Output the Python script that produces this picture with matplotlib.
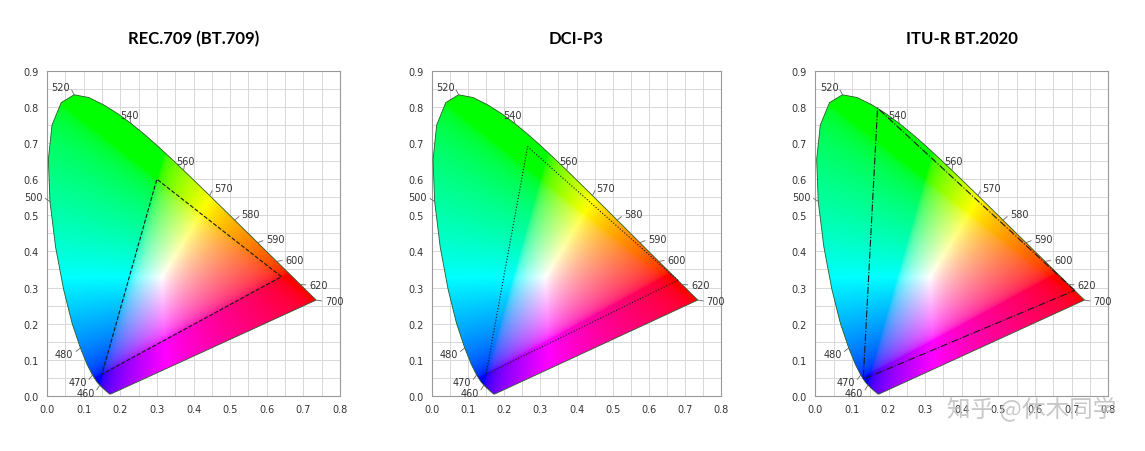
import numpy as np
import matplotlib
matplotlib.use('Agg')
import matplotlib.pyplot as plt
from matplotlib.patches import Polygon

# CIE 1931 spectral locus (x, y)
wl = [380, 400, 420, 430, 440, 450, 455, 460, 465, 470, 475, 480, 485, 490, 495,
      500, 505, 510, 515, 520, 525, 530, 535, 540, 545, 550, 555, 560, 565, 570,
      575, 580, 585, 590, 595, 600, 605, 610, 615, 620, 625, 630, 640, 650, 660, 680, 700]
locus_x = [0.1741, 0.1733, 0.1714, 0.1689, 0.1644, 0.1566, 0.1510, 0.1440, 0.1355, 0.1241, 0.1096,
           0.0913, 0.0687, 0.0454, 0.0235, 0.0082, 0.0039, 0.0139, 0.0389, 0.0743, 0.1142, 0.1547,
           0.1929, 0.2296, 0.2658, 0.3016, 0.3373, 0.3731, 0.4087, 0.4441, 0.4788, 0.5125, 0.5448,
           0.5752, 0.6029, 0.6270, 0.6482, 0.6658, 0.6801, 0.6915, 0.7006, 0.7079, 0.7190, 0.7260,
           0.7300, 0.7334, 0.7347]
locus_y = [0.0050, 0.0048, 0.0051, 0.0069, 0.0109, 0.0177, 0.0227, 0.0297, 0.0399, 0.0578, 0.0868,
           0.1327, 0.2007, 0.2950, 0.4127, 0.5384, 0.6548, 0.7502, 0.8120, 0.8338, 0.8262, 0.8059,
           0.7816, 0.7543, 0.7243, 0.6923, 0.6589, 0.6245, 0.5896, 0.5547, 0.5202, 0.4866, 0.4544,
           0.4242, 0.3965, 0.3725, 0.3514, 0.3340, 0.3197, 0.3083, 0.2993, 0.2920, 0.2809, 0.2740,
           0.2700, 0.2666, 0.2653]

label_wl = [460, 470, 480, 500, 520, 540, 560, 570, 580, 590, 600, 620, 700]

titles = ['REC.709 (BT.709)', 'DCI-P3', 'ITU-R BT.2020']
gamut_x = [[0.64, 0.30, 0.15], [0.68, 0.265, 0.15], [0.708, 0.170, 0.131]]
gamut_y = [[0.33, 0.60, 0.06], [0.32, 0.69, 0.06], [0.292, 0.797, 0.046]]
gamut_ls = ['--', ':', '-.']

# colour image for the horseshoe
xs = np.linspace(0, 0.8, 400)
ys = np.linspace(0, 0.9, 450)
X, Y = np.meshgrid(xs, ys)
Yv = np.where(Y > 1e-4, Y, 1e-4)
XX = X / Yv
ZZ = (1 - X - Y) / Yv
M = np.array([[3.2406, -1.5372, -0.4986], [-0.9689, 1.8758, 0.0415], [0.0557, -0.2040, 1.0570]])
rgb = np.stack([M[i, 0] * XX + M[i, 1] * 1 + M[i, 2] * ZZ for i in range(3)], axis=-1)
rgb = np.clip(rgb, 0, None)
rgb = rgb / rgb.max(axis=-1, keepdims=True).clip(1e-6)
rgb = np.clip(rgb, 0, 1) ** (1 / 2.2)

fig = plt.figure(figsize=(11.45, 4.52), dpi=100)
lefts = [0.041, 0.377, 0.712]
widths = [0.256, 0.253, 0.256]
for k in range(3):
    ax = fig.add_axes([lefts[k], 0.122, widths[k], 0.719])
    ax.set_xlim(0, 0.8)
    ax.set_ylim(0, 0.9)
    ax.set_xticks(np.arange(0, 0.81, 0.1))
    ax.set_yticks(np.arange(0, 0.91, 0.1))
    ax.set_xticks(np.arange(0, 0.81, 0.05), minor=True)
    ax.set_yticks(np.arange(0, 0.91, 0.05), minor=True)
    ax.set_xticklabels(['%.1f' % v for v in np.arange(0, 0.81, 0.1)])
    ax.set_yticklabels(['%.1f' % v for v in np.arange(0, 0.91, 0.1)])
    ax.tick_params(which='both', length=0, labelsize=7, colors='#333333', pad=6)
    ax.grid(which='both', color='#d8d8d8', lw=0.7)
    ax.set_axisbelow(True)
    for s in ax.spines.values():
        s.set_color('#999999')
        s.set_linewidth(0.8)

    poly = Polygon(list(zip(locus_x, locus_y)), closed=True, fc='none', ec='#2a5a2a', lw=0.6, zorder=3)
    ax.add_patch(poly)
    im = ax.imshow(rgb, origin='lower', extent=(0, 0.8, 0, 0.9), aspect='auto', zorder=2,
                   interpolation='bilinear')
    im.set_clip_path(poly)

    gx = gamut_x[k] + [gamut_x[k][0]]
    gy = gamut_y[k] + [gamut_y[k][0]]
    ax.plot(gx, gy, color='#1a1a1a', ls=gamut_ls[k], lw=0.8, zorder=4)

    # wavelength labels
    cx, cy = 0.33, 0.33
    for w in label_wl:
        i = wl.index(w)
        px, py = locus_x[i], locus_y[i]
        dx, dy = px - cx, py - cy
        n = np.hypot(dx, dy)
        dx, dy = dx / n, dy / n
        ax.plot([px, px + dx * 0.015], [py, py + dy * 0.015], color='#666666', lw=0.6, zorder=4, clip_on=False)
        ha = 'left' if dx > 0.3 else ('right' if dx < -0.3 else 'center')
        ax.text(px + dx * 0.025, py + dy * 0.025, str(w), fontsize=7, color='#333333',
                ha=ha, va='center', zorder=5, clip_on=False)

    ax.set_title(titles[k], fontsize=12, fontweight='bold', pad=20, family='Lato')

fig.text(0.975, 0.095, '知乎 @休木同学', fontsize=17, color='#bbbbbb', alpha=0.8, ha='right',
         va='center', family=['Noto Sans CJK SC', 'DejaVu Sans'])

fig.savefig('out.png', dpi=100)
